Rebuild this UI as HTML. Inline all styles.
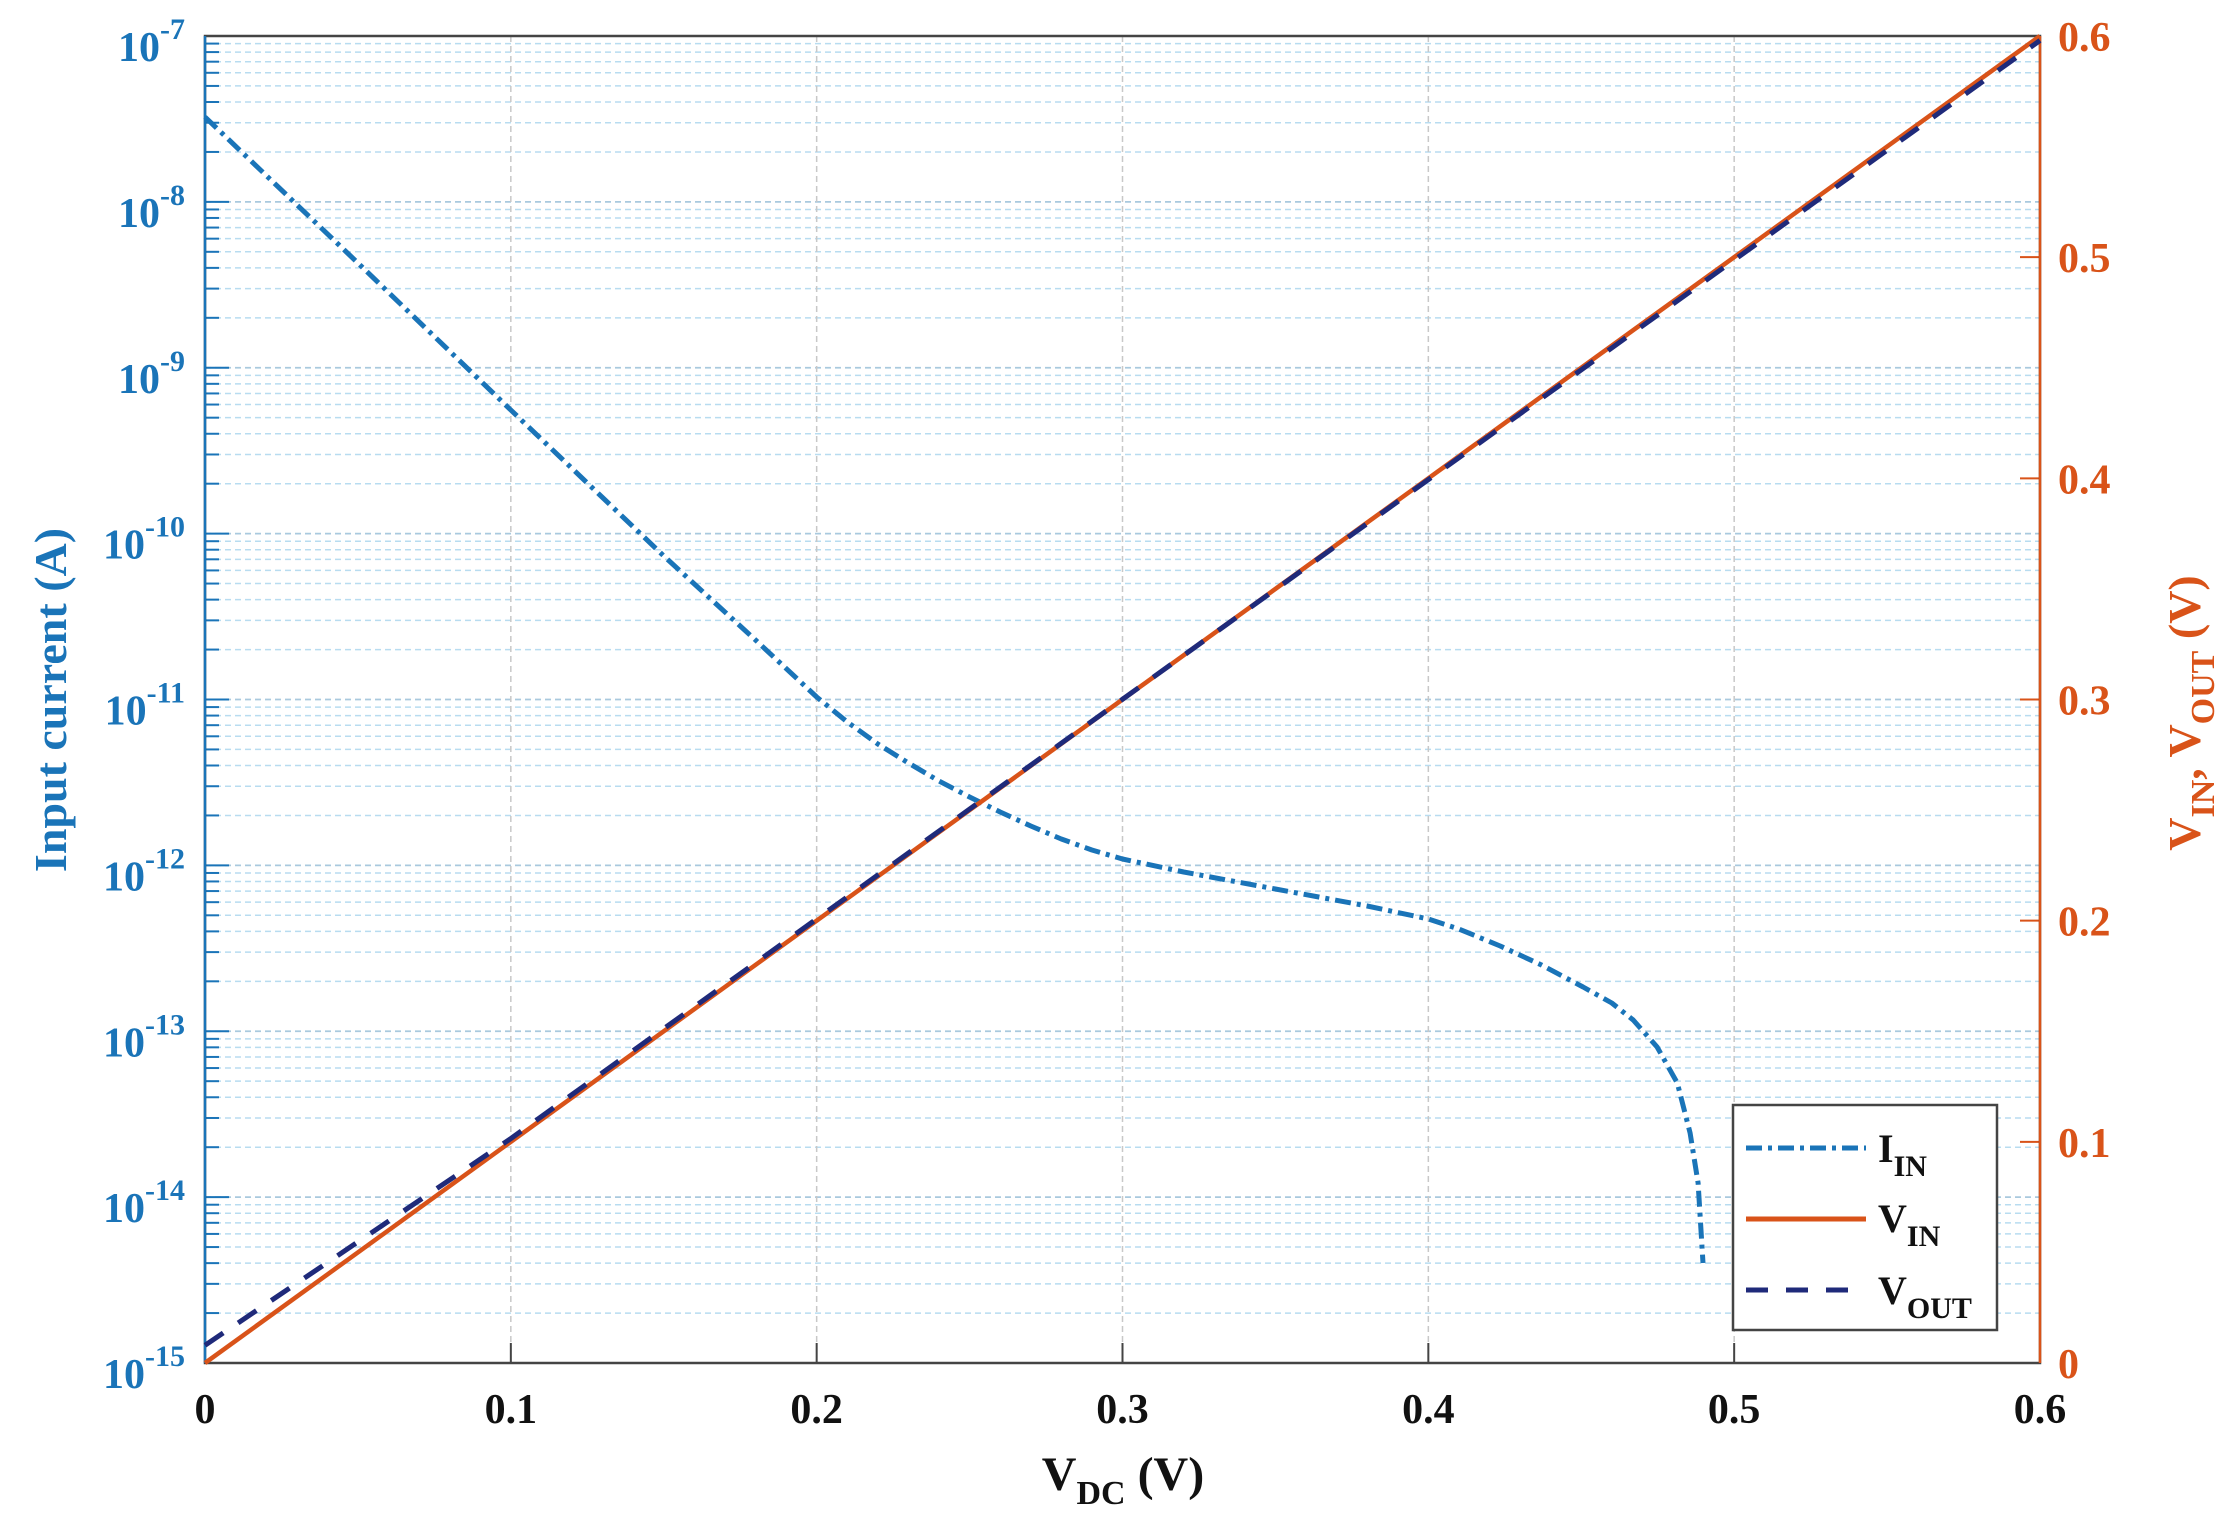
<!DOCTYPE html>
<html><head><meta charset="utf-8"><style>
html,body{margin:0;padding:0;background:#fff;}
svg{display:block;font-family:"Liberation Serif",serif;font-weight:bold;}
</style></head><body>
<svg id="s" width="2238" height="1539" xmlns="http://www.w3.org/2000/svg">
<g id="grid"></g>
<g id="lbl"></g>
<rect x="205" y="36" width="1835" height="1327" fill="none" stroke="#444" stroke-width="2.5"/>
<line x1="2040" y1="36" x2="2040" y2="1363" stroke="#D95319" stroke-width="2.5"/>
<line x1="205" y1="36" x2="205" y2="1363" stroke="#1a74b8" stroke-width="2.5"/>
<g id="series"></g>
<rect x="1733" y="1105" width="264" height="225" fill="#fff" stroke="#444" stroke-width="2.5"/>
<line x1="1746" y1="1148" x2="1866" y2="1148" stroke="#1a74b8" stroke-width="5" stroke-dasharray="16,6,4,6"/>
<line x1="1746" y1="1219" x2="1866" y2="1219" stroke="#D95319" stroke-width="5"/>
<line x1="1746" y1="1290" x2="1856" y2="1290" stroke="#1f2a7a" stroke-width="5" stroke-dasharray="22,18"/>
<text x="1878" y="1162" font-size="40" fill="#111">I<tspan font-size="30" dy="14">IN</tspan></text>
<text x="1878" y="1232" font-size="40" fill="#111">V<tspan font-size="30" dy="14">IN</tspan></text>
<text x="1878" y="1304" font-size="40" fill="#111">V<tspan font-size="30" dy="14">OUT</tspan></text>
<text x="1123" y="1490" font-size="48" fill="#111" text-anchor="middle">V<tspan font-size="34" dy="14">DC</tspan><tspan dy="-14"> (V)</tspan></text>
<text transform="translate(66,700) rotate(-90)" font-size="46" fill="#1a74b8" text-anchor="middle">Input current (A)</text>
<text transform="translate(2200,713) rotate(-90)" font-size="46" fill="#D95319" text-anchor="middle">V<tspan font-size="34" dy="14">IN</tspan><tspan dy="-14">, V</tspan><tspan font-size="34" dy="14">OUT</tspan><tspan dy="-14"> (V)</tspan></text>
</svg>
<script>
var NS="http://www.w3.org/2000/svg";
function el(p,t,a,txt){var e=document.createElementNS(NS,t);for(var k in a)e.setAttribute(k,a[k]);if(txt!==undefined)e.textContent=txt;p.appendChild(e);return e;}
var L=205,R=2040,T=36,B=1363,W=R-L,H=B-T;
function X(v){return L+v/0.6*W;}
function YL(lg){return T+(-7-lg)*(H/8);}
function YR(v){return B-v/0.6*H;}
var g=document.getElementById('grid'),lb=document.getElementById('lbl'),se=document.getElementById('series');
for(var d=-15;d<-7;d++){for(var m=2;m<=9;m++){var y=YL(d+Math.log10(m));
el(g,'line',{x1:L,x2:R,y1:y,y2:y,stroke:'#b8dcf0','stroke-width':1.5,'stroke-dasharray':'6,4'});
el(g,'line',{x1:L,x2:L+14,y1:y,y2:y,stroke:'#1a74b8','stroke-width':2});}}
for(var d=-15;d<=-7;d++){var y=YL(d);
el(g,'line',{x1:L,x2:R,y1:y,y2:y,stroke:'#a9c9de','stroke-width':1.8,'stroke-dasharray':'6,4'});
el(g,'line',{x1:L,x2:L+24,y1:y,y2:y,stroke:'#1a74b8','stroke-width':2});
var t=el(lb,'text',{x:185,y:y+25,'font-size':42,fill:'#1a74b8','text-anchor':'end'});
t.textContent='10';var ts=el(t,'tspan',{'font-size':30,dy:-22},'-'+(-d));}
for(var i=0;i<=6;i++){var x=X(i/10);
if(i>0&&i<6)el(g,'line',{x1:x,x2:x,y1:T,y2:B,stroke:'#c8c8c8','stroke-width':1.5,'stroke-dasharray':'6,4'});
el(g,'line',{x1:x,x2:x,y1:B,y2:B-20,stroke:'#444','stroke-width':2});
el(lb,'text',{x:x,y:1423,'font-size':42,fill:'#111','text-anchor':'middle'},i==0?'0':(i/10).toFixed(1));
var yr=YR(i/10);
el(g,'line',{x1:R-20,x2:R,y1:yr,y2:yr,stroke:'#D95319','stroke-width':2});
el(lb,'text',{x:2058,y:yr+15,'font-size':42,fill:'#D95319'},i==0?'0':(i/10).toFixed(1));}
var pts=[[0,117],[.05,263],[.1,410],[.15,556],[.18,640],[.2,697],[.21,722],[.22,744],[.23,763],[.24,781],[.25,797],[.26,812],[.27,826],[.28,839],[.29,850],[.3,859],[.32,872],[.35,889],[.38,906],[.4,919],[.41,929],[.4235,946],[.437,965],[.4506,987],[.46,1003],[.467,1020],[.4748,1047],[.4814,1083],[.4856,1133],[.4882,1183],[.4898,1263]];
var d1=pts.map(function(p,i){return (i?'L':'M')+X(p[0]).toFixed(1)+','+p[1];}).join(' ');
el(se,'path',{d:d1,fill:'none',stroke:'#1a74b8','stroke-width':5,'stroke-linejoin':'round','stroke-dasharray':'16,6,4,6'});
el(se,'line',{x1:X(0),y1:YR(0),x2:X(0.6),y2:YR(0.6),stroke:'#D95319','stroke-width':4.5});
el(se,'path',{d:'M'+X(0)+','+YR(0.008)+' L'+X(0.1)+','+YR(0.1015)+' L'+X(0.6)+','+YR(0.598),fill:'none',stroke:'#1f2a7a','stroke-width':5,'stroke-dasharray':'22,18'});
</script>
</body></html>
